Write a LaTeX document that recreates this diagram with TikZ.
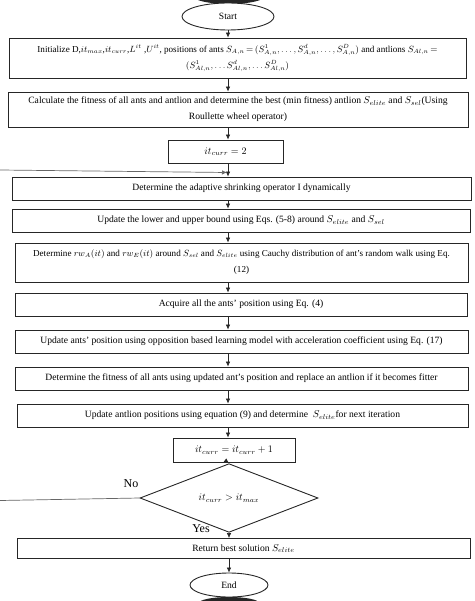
\documentclass[tikz,border=0pt]{standalone}
\usepackage{fontspec}
\setmainfont{Liberation Serif}
\usetikzlibrary{shapes.geometric,arrows.meta}
\newcommand\mytightmath{\thickmuskip=3mu\relax\medmuskip=2mu\relax}
\begin{document}
\begin{tikzpicture}[x=1pt,y=-1pt,
  box/.style={draw=black!85,line width=0.9pt,inner sep=0pt,align=center,fill=white,
    font=\fontsize{9.6}{16}\selectfont},
  tight/.style={font=\fontsize{9.1}{16}\selectfont, execute at begin node=\mytightmath},
  term/.style={draw=black!85,line width=0.9pt,ellipse,inner sep=0pt,fill=white,
    font=\fontsize{9.6}{11}\selectfont},
  arr/.style={draw=black!85,line width=0.6pt,-{Latex[length=5pt,width=4.5pt]}},
  fb/.style={draw=black!60,line width=0.7pt},
  lab/.style={inner sep=0pt,font=\fontsize{12}{13}\selectfont},
]
\useasboundingbox (0,0) rectangle (474,601);
\coordinate (ax) at (228,0);

% shadows of the terminators (cropped)
\begin{scope}
\clip (0,0) rectangle (474,601);
\fill[black!85] (229,-4) ellipse (36 and 8);
\fill[black!85] (229,603) ellipse (30 and 6);
\end{scope}

\node[term,minimum width=92pt,minimum height=27pt] (start) at (228,16.5) {Start};

\node[box,tight,minimum width=457pt,minimum height=40pt] (init) at (237.5,58)
 {Initialize D,$it_{max}$,$it_{curr}$,$L^{it}$ ,$U^{it}$, positions of ants $S_{A,n}=(S^1_{A,n},\ldots,S^d_{A,n},\ldots,S^D_{A,n})$ and antlions $S_{Al,n}=$\\
  $(S^1_{Al,n},\ldots S^d_{Al,n},\ldots S^D_{Al,n})$};

\node[box,minimum width=460pt,minimum height=35pt] (calc) at (238,109.5)
 {Calculate the fitness of all ants and antlion and determine the best (min fitness) antlion $S_{elite}$ and $S_{sel}$(Using\\
  Roullette wheel operator)};

\node[box,minimum width=115pt,minimum height=23pt] (it2) at (225.5,151.5) {$it_{curr}=2$};

\node[box,minimum width=459pt,minimum height=23pt] (adapt) at (241.5,188.5)
 {Determine the adaptive shrinking operator I dynamically};

\node[box,minimum width=458pt,minimum height=23pt] (lower) at (241,220.5)
 {Update the lower and upper bound using Eqs. (5-8) around $S_{elite}$ and $S_{sel}$};

\node[box,tight,minimum width=453pt,minimum height=39pt] (rw) at (241.5,262.5)
 {Determine $rw_A(it)$ and $rw_E(it)$ around $S_{sel}$ and $S_{elite}$ using Cauchy distribution of ant’s random walk using Eq.\\
  (12)};

\node[box,minimum width=452pt,minimum height=23pt] (acq) at (241,304.5)
 {Acquire all the ants’ position using Eq. (4)};

\node[box,minimum width=453pt,minimum height=23pt] (upd) at (241.5,341.5)
 {Update ants’ position using opposition based learning model with acceleration coefficient using Eq. (17)};

\node[box,minimum width=453pt,minimum height=23pt] (fit) at (241.5,378.5)
 {Determine the fitness of all ants using updated ant’s position and replace an antlion if it becomes fitter};

\node[box,minimum width=451pt,minimum height=23pt] (alp) at (242.5,415.5)
 {Update antlion positions using equation (9) and determine~ $S_{elite}$for next iteration};

\node[box,minimum width=122pt,minimum height=24pt] (inc) at (234,450) {$it_{curr}=it_{curr}+1$};

\node[diamond,draw=black!85,line width=0.9pt,inner sep=0pt,minimum width=178pt,minimum height=50pt,
  font=\fontsize{9.6}{11}\selectfont] (dec) at (229,498) {\raisebox{-2pt}{$it_{curr}>it_{max}$}};

\node[box,minimum width=453pt,minimum height=20pt] (ret) at (243.5,548.5)
 {Return best solution $S_{elite}$};

\node[term,minimum width=78pt,minimum height=24pt] (end) at (229,585) {End};

\node[lab] (no) at (131,484) {No};
\node[lab] (yes) at (201,529) {Yes};

% main flow
\draw[arr] (start.south -| ax) -- (init.north -| ax);
\draw[arr] (init.south -| ax) -- (calc.north -| ax);
\draw[arr] (calc.south -| ax) -- (it2.north -| ax);
\draw[arr] (it2.south -| ax) -- (adapt.north -| ax);
\draw[arr] (adapt.south -| ax) -- (lower.north -| ax);
\draw[arr] (lower.south -| ax) -- (rw.north -| ax);
\draw[arr] (rw.south -| ax) -- (acq.north -| ax);
\draw[arr] (acq.south -| ax) -- (upd.north -| ax);
\draw[arr] (upd.south -| ax) -- (fit.north -| ax);
\draw[arr] (fit.south -| ax) -- (alp.north -| ax);
\draw[arr] (alp.south -| ax) -- (inc.north -| ax);
\draw[arr] (inc.south -| ax) -- (dec.north);
\draw[arr] (dec.south) -- (dec.south |- ret.north);
\draw[arr] (ret.south -| end.north) -- (end.north);

% feedback (cropped at the left edge)
\coordinate (noend) at (0,500.5);
\coordinate (fbstart) at (0,170);
\coordinate (fbtip) at (227,172.5);
\draw[fb] (dec.west) -- (noend);
\draw[fb,-{Latex[length=5pt,width=4.5pt]}] (fbstart) -- (fbtip);
\end{tikzpicture}
\end{document}
